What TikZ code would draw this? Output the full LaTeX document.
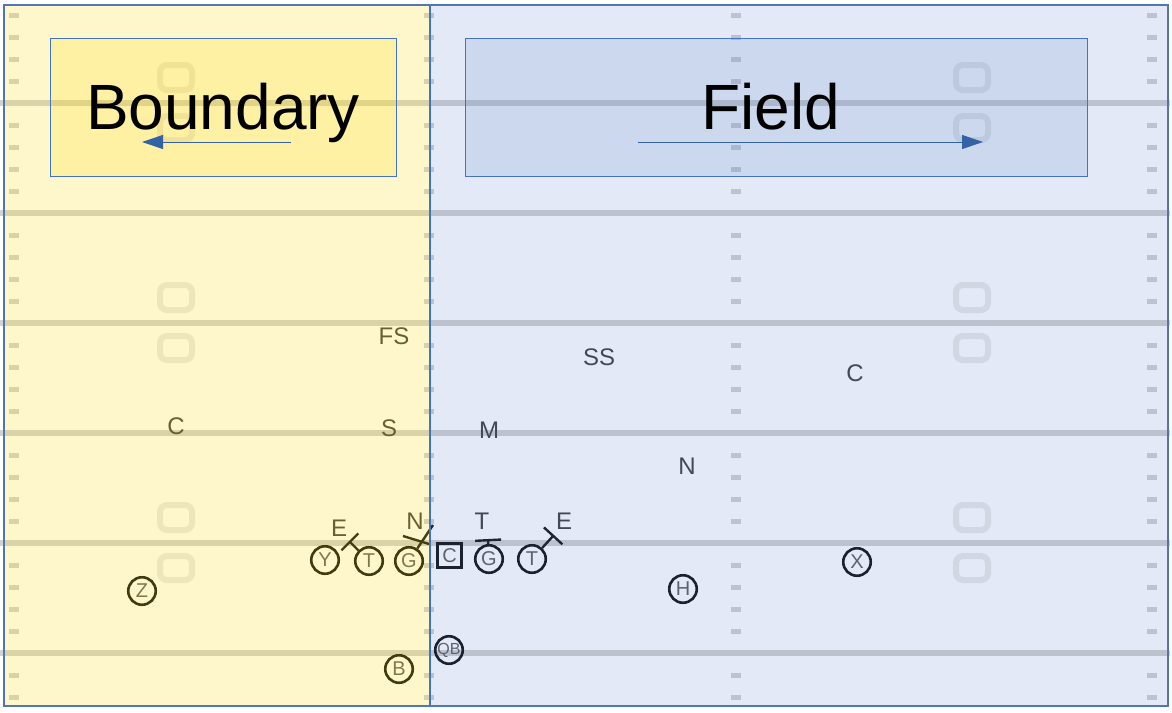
\documentclass[tikz,border=0pt]{standalone}
\usepackage{fontspec}
\setmainfont{Liberation Sans}
\usepackage{xcolor}
\usetikzlibrary{arrows.meta}

\definecolor{yardgray}{RGB}{210,210,210}
\definecolor{numgray}{RGB}{234,234,234}
\definecolor{boundyellow}{RGB}{255,217,0}
\definecolor{fieldblue}{RGB}{68,114,196}
\definecolor{arrowblue}{RGB}{52,98,166}
\definecolor{inkgray}{RGB}{66,66,66}

\tikzset{
  player/.style={circle,draw=black!92,line width=2.6pt,minimum size=27.5pt,inner sep=0pt,
    text=black!62,font=\fontsize{20}{20}\selectfont},
  snapper/.style={rectangle,draw=black!92,line width=2.6pt,minimum size=24.5pt,inner sep=0pt,
    text=black!62,font=\fontsize{20}{20}\selectfont},
  deflabel/.style={text=inkgray,inner sep=0pt,font=\fontsize{24}{24}\selectfont},
  block/.style={draw=black!90,line width=2.4pt},
  zonebox/.style={draw=fieldblue,line width=1pt,fill opacity=0.2,inner sep=0pt},
  zonetitle/.style={inner sep=0pt,font=\fontsize{64}{64}\selectfont},
  dirarrow/.style={arrowblue,line width=1pt,-{Triangle[length=21pt,width=14pt]}}
}

\begin{document}
\begin{tikzpicture}[x=1pt,y=-1pt]
            \useasboundingbox (0,0) rectangle (1172,712);
            \fill[white] (0,0) rectangle (1172,712);
            % hash marks and yard lines
            \foreach \j in {0,...,31}{
              \pgfmathtruncatemacro\r{mod(\j,5)}
              \ifnum\r=4\else
                \foreach \hx in {14,429,736,1152}
                  \fill[yardgray] (\hx-5,15+22*\j-2.5) rectangle ++(10,5);
              \fi
            }
            \foreach \yl in {103,213,323,433,543,653}
              \draw[yardgray,line width=6pt] (0,\yl) -- (1170,\yl);
            \foreach \nx in {176,972}
              \foreach \yl in {103,323,543}{
                \draw[numgray,line width=6pt,rounded corners=7pt] (\nx-16,\yl-38) rectangle (\nx+16,\yl-13);
                \draw[numgray,line width=6pt,rounded corners=7pt] (\nx-16,\yl+13) rectangle (\nx+16,\yl+37);
              }
            % offense
            \node[player] (Y) at (325,560) {Y};
            \node[player] (lT) at (369,561) {T};
            \node[player] (lG) at (409,561) {G};
            \node[snapper] (C) at (449.5,555.5) {C};
            \node[player] (rG) at (489,559) {G};
            \node[player] (rT) at (532,559) {T};
            \node[player] (H) at (683,589) {H};
            \node[player] (X) at (857,562) {X};
            \node[player] (Z) at (142,591) {Z};
            \node[player] (B) at (399,669) {B};
            \node[player,font=\fontsize{16}{16}\selectfont] (QB) at (449,650) {QB};
            % defense
            \node[deflabel] (FS) at (394,336) {FS};
            \node[deflabel] (SS) at (599,357) {SS};
            \node[deflabel] (rC) at (855,373) {C};
            \node[deflabel] (lC) at (176,426) {C};
            \node[deflabel] (S) at (389,428) {S};
            \node[deflabel] (M) at (489,430) {M};
            \node[deflabel] (rN) at (687,466) {N};
            \node[deflabel] (lE) at (339,528) {E};
            \node[deflabel] (lN) at (415,521) {N};
            \node[deflabel] (dT) at (482,521) {T};
            \node[deflabel] (rE) at (564,521) {E};
            % blocks
            \coordinate (lEbar) at (349,541);
            \coordinate (rEbar) at (554,535);
            \coordinate (dTbar) at (488,539);
            \coordinate (lNtip) at (433,525);
            \coordinate (lNbarA) at (403,536);
            \coordinate (lNbarB) at (429,544);
            \draw[block,-{Bar[width=24pt]}] (lT) -- (lEbar);
            \draw[block,-{Bar[width=25pt]}] (rT) -- (rEbar);
            \draw[block,-{Bar[width=26pt]}] (rG) -- (dTbar);
            \draw[block] (lG) -- (lNtip);
            \draw[block] (lNbarA) -- (lNbarB);
            % sides
            \fill[boundyellow,opacity=0.2] (4,5) rectangle (430,706);
            \fill[fieldblue,opacity=0.15] (430,5) rectangle (1168,706);
            \node[zonebox,fill=boundyellow,minimum width=346pt,minimum height=138pt] (boundbox) at (223,107) {};
            \node[zonebox,fill=fieldblue,fill opacity=0.14,minimum width=622pt,minimum height=138pt] (fieldbox) at (776,107) {};
            \node[zonetitle,anchor=base] (boundtext) at (223,129) {Boundary};
            \node[zonetitle,anchor=base] (fieldtext) at (771,129) {Field};
            \coordinate (bArrS) at (291,142);
            \coordinate (bArrE) at (142,142);
            \coordinate (fArrS) at (638,142);
            \coordinate (fArrE) at (983,142);
            \draw[dirarrow] (bArrS) -- (bArrE);
            \draw[dirarrow] (fArrS) -- (fArrE);
            \draw[fieldblue,line width=1.2pt] (430,5) -- (430,706);
            \draw[fieldblue!75!gray,line width=1.5pt] (4,5) rectangle (1168,706);
        \end{tikzpicture}
\end{document}
